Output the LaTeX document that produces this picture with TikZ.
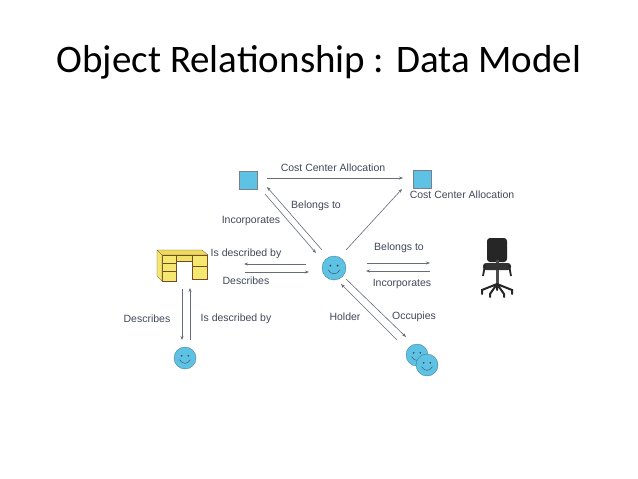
\documentclass[tikz,border=0pt]{standalone}
\usepackage{fontspec}
\setmainfont{Liberation Sans}
\newfontfamily\titlefont{Carlito}
\usetikzlibrary{arrows.meta,calc}
\definecolor{sky}{HTML}{5DC2E3}
\definecolor{txt}{HTML}{404858}
\tikzset{
 lbl/.style={font=\fontsize{10.5}{11}\selectfont, text=txt, inner sep=0pt},
 con/.style={draw=txt!80, line width=0.6pt, -{Stealth[length=4pt,width=3pt]}},
 sq/.style={draw=txt!70, fill=sky, minimum size=18pt, inner sep=0pt, line width=0.4pt},
}
\newcommand{\smiley}[2]{%
 \fill[sky] (#1) circle (#2);
 \draw[sky!60!black, line width=0.3pt] (#1) circle (#2);
 \fill[txt] ($(#1)+(-0.3*#2,-0.2*#2)$) circle (0.09*#2);
 \fill[txt] ($(#1)+(0.3*#2,-0.2*#2)$) circle (0.09*#2);
 \draw[txt, line width=0.4pt] ($(#1)+(-0.5*#2,0.15*#2)$) .. controls ($(#1)+(-0.25*#2,0.6*#2)$) and ($(#1)+(0.25*#2,0.6*#2)$) .. ($(#1)+(0.5*#2,0.15*#2)$);}
\begin{document}
\begin{tikzpicture}[x=1pt,y=-1pt]
\useasboundingbox (0,0) rectangle (638,479);
\fill[white] (0,0) rectangle (638,479);
\node[font=\titlefont\fontsize{39}{42}\selectfont, text=black] (title) at (319,62) {Object Relationship : Data Model};
% nodes
\node[sq] (s1) at (248,180) {};
\node[sq] (s2) at (422,179) {};
\coordinate (c) at (334,268);
\smiley{334,268}{12}
\smiley{185,358}{11}
\smiley{417,355}{11}
\smiley{427,365}{11}
% desk
\begin{scope}[shift={(182,266)}]
 \fill[brown!40!yellow!70!white, draw=brown!60!black, line width=0.3pt] (-25,-16) -- (20,-16) -- (26,-11) -- (-20,-11) -- cycle;
 \fill[brown!30!yellow!60!white, draw=brown!60!black, line width=0.3pt] (-20,-11) rectangle (-6,15);
 \fill[brown!30!yellow!60!white, draw=brown!60!black, line width=0.3pt] (10,-11) rectangle (25,13);
 \fill[brown!35!yellow!65!white, draw=brown!60!black, line width=0.3pt] (-6,-11) rectangle (10,-5);
 \draw[brown!60!black, line width=0.3pt] (-20,-3) -- (-6,-3) (-20,5) -- (-6,5) (10,0) -- (25,0);
 \fill[brown!30!yellow!60!white, draw=brown!60!black, line width=0.3pt] (-25,-16) -- (-20,-11) -- (-20,15) -- (-25,10) -- cycle;
\end{scope}
% chair
\begin{scope}[shift={(497,268)}]
 \fill[black!85, rounded corners=3pt] (-10,-30) rectangle (10,-6);
 \fill[black!70] (-1.5,-8) rectangle (1.5,-3);
 \fill[black!80, rounded corners=3pt] (-14,-5) rectangle (14,2);
 \fill[black!70] (-1.5,2) rectangle (1.5,16);
 \draw[black!85, line width=2pt, line cap=round] (0,16) -- (-15,22) -- (-15,26) (0,16) -- (15,22) -- (15,26) (0,16) -- (-7,26) -- (-7,29) (0,16) -- (7,26) -- (7,29) (0,16) -- (0,22);
 \draw[black!85, line width=1.8pt] (-12,-3) -- (-14,8) (12,-3) -- (14,8);
\end{scope}
% connectors
\coordinate (a1) at (267,178); \coordinate (a2) at (403,178);
\draw[con] (a1) -- (a2);
\node[lbl] (l1) at (333,168) {Cost Center Allocation};
\node[lbl] (l2) at (462,195) {Cost Center Allocation};
\coordinate (b1) at (346,250); \coordinate (b2) at (402,189);
\draw[con] (b1) -- (b2);
\coordinate (d1) at (322,250); \coordinate (d2) at (267,187);
\draw[con] (d1) -- (d2);
\coordinate (e1) at (265,194); \coordinate (e2) at (316,253);
\draw[con] (e1) -- (e2);
\node[lbl] (l3) at (316,206) {Belongs to};
\node[lbl] (l4) at (251,221) {Incorporates};
\coordinate (f1) at (306,264); \coordinate (f2) at (244,264);
\draw[con] (f1) -- (f2);
\coordinate (g1) at (245,272); \coordinate (g2) at (309,272);
\draw[con] (g1) -- (g2);
\node[lbl] (l5) at (246,254) {Is described by};
\node[lbl] (l6) at (246,281) {Describes};
\coordinate (h1) at (367,263); \coordinate (h2) at (430,263);
\draw[con] (h1) -- (h2);
\coordinate (i1) at (430,271); \coordinate (i2) at (366,271);
\draw[con] (i1) -- (i2);
\node[lbl] (l7) at (399,248) {Belongs to};
\node[lbl] (l8) at (402,284) {Incorporates};
\coordinate (j1) at (182,289); \coordinate (j2) at (182,340);
\draw[con] (j1) -- (j2);
\coordinate (k1) at (190,340); \coordinate (k2) at (190,288);
\draw[con] (k1) -- (k2);
\node[lbl] (l9) at (147,319) {Describes};
\node[lbl] (l10) at (236,319) {Is described by};
\coordinate (m1) at (397,340); \coordinate (m2) at (341,284);
\draw[con] (m1) -- (m2);
\coordinate (n1) at (346,279); \coordinate (n2) at (406,337);
\draw[con] (n1) -- (n2);
\node[lbl] (l11) at (345,317) {Holder};
\node[lbl] (l12) at (414,317) {Occupies};
\end{tikzpicture}
\end{document}
